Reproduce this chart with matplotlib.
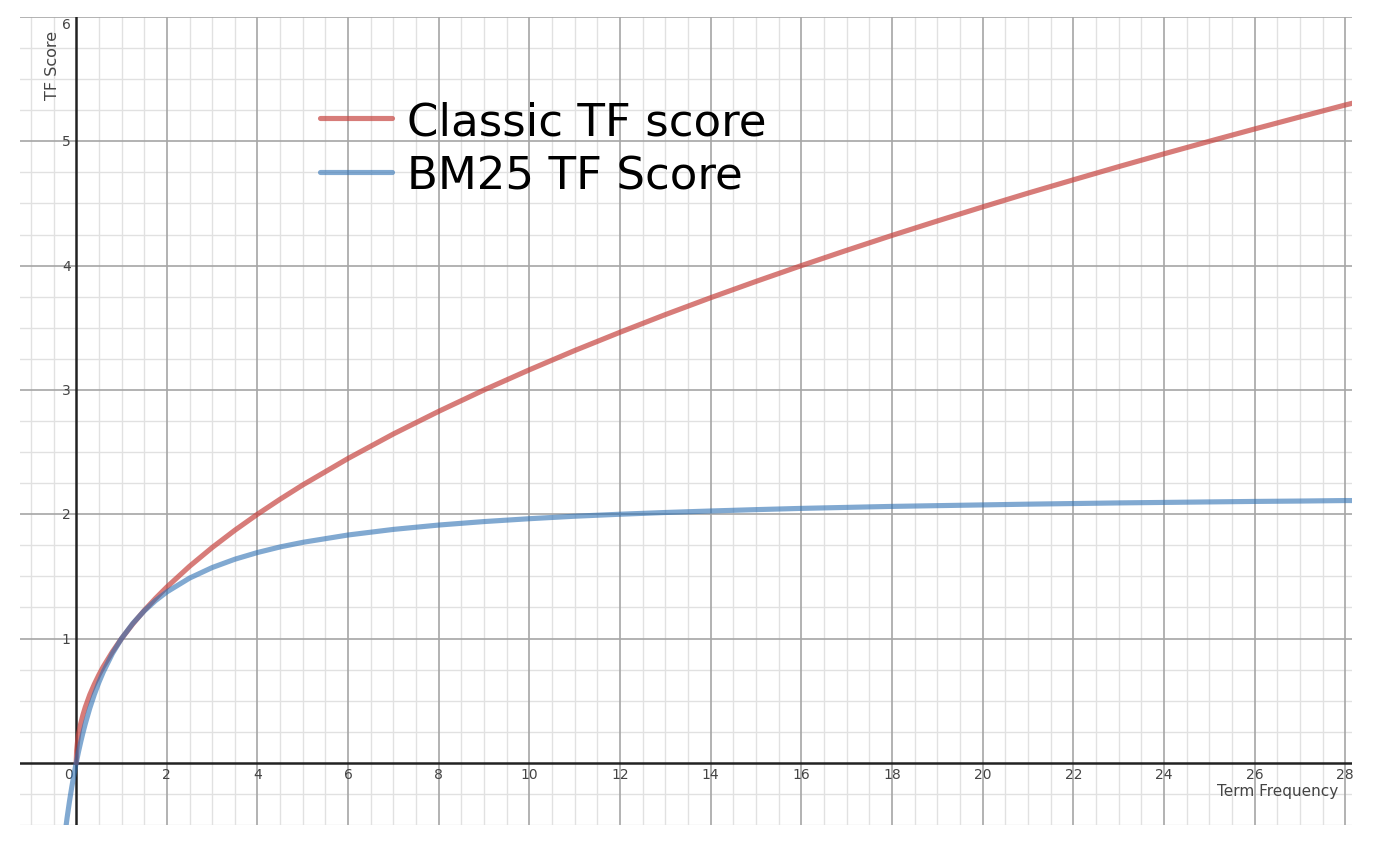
import matplotlib
matplotlib.use("Agg")
import matplotlib.pyplot as plt
import numpy as np

# Values
classic_x = [0, 0.01, 0.03, 0.06, 0.1, 0.15, 0.2, 0.3, 0.4, 0.5, 0.6, 0.8, 1, 1.25,
             1.5, 1.75, 2, 2.5, 3, 3.5, 4, 4.5, 5, 6, 7, 8, 9, 10, 11, 12, 13, 14,
             15, 16, 17, 18, 19, 20, 21, 22, 23, 24, 25, 26, 27, 28, 28.2]
classic_y = [0, 0.1, 0.173, 0.245, 0.316, 0.387, 0.447, 0.548, 0.632, 0.707, 0.775,
             0.894, 1.0, 1.118, 1.225, 1.323, 1.414, 1.581, 1.732, 1.871, 2.0, 2.121,
             2.236, 2.449, 2.646, 2.828, 3.0, 3.162, 3.317, 3.464, 3.606, 3.742,
             3.873, 4.0, 4.123, 4.243, 4.359, 4.472, 4.583, 4.690, 4.796, 4.899, 5.0,
             5.099, 5.196, 5.292, 5.310]

bm25_x = [-0.25, -0.2, -0.15, -0.1, -0.05, 0, 0.05, 0.1, 0.15, 0.2, 0.3, 0.4, 0.5,
          0.6, 0.8, 1, 1.25, 1.5, 1.75, 2, 2.5, 3, 3.5, 4, 4.5, 5, 6, 7, 8, 9, 10,
          11, 12, 13, 14, 15, 16, 17, 18, 19, 20, 21, 22, 23, 24, 25, 26, 27, 28, 28.2]
bm25_y = [-0.58, -0.44, -0.314, -0.2, -0.096, 0, 0.088, 0.169, 0.244, 0.314, 0.44,
          0.55, 0.647, 0.733, 0.88, 1.0, 1.122, 1.222, 1.305, 1.375, 1.486, 1.571,
          1.638, 1.692, 1.737, 1.774, 1.833, 1.878, 1.913, 1.941, 1.964, 1.984, 2.0,
          2.014, 2.026, 2.037, 2.047, 2.055, 2.063, 2.069, 2.075, 2.081, 2.086,
          2.091, 2.095, 2.099, 2.103, 2.106, 2.11, 2.11]

x_tick_vals = list(range(0, 29, 2))
y_tick_vals = [1, 2, 3, 4, 5, 6]
series_labels = ["Classic TF score", "BM25 TF Score"]
x_label = "Term Frequency"
y_label = "TF Score"

W, H = 1382, 854
fig = plt.figure(figsize=(W / 100, H / 100), dpi=100)
ax = fig.add_axes([20 / W, (H - 826) / H, (1352 - 20) / W, (826 - 18) / H])
ax.set_xlim(-1.24, 28.15)
ax.set_ylim(-0.5, 6.0)
for s in ax.spines.values():
    s.set_visible(False)
ax.set_xticks([])
ax.set_yticks([])

# grid
for v in np.arange(-1.0, 28.6, 0.5):
    if abs(v % 2) < 1e-9:
        continue
    ax.axvline(v, color="#e1e1e1", lw=1.0, zorder=0)
for v in np.arange(-0.5, 6.01, 0.25):
    if abs(v - round(v)) < 1e-9:
        continue
    ax.axhline(v, color="#e1e1e1", lw=1.0, zorder=0)
for v in x_tick_vals:
    if v == 0:
        continue
    ax.axvline(v, color="#a6a6a6", lw=1.2, zorder=1)
for v in y_tick_vals:
    ax.axhline(v, color="#a6a6a6", lw=1.2, zorder=1)
ax.axvline(0, color="#222222", lw=1.8, zorder=2)
ax.axhline(0, color="#222222", lw=1.8, zorder=2)

# tick labels
for v in x_tick_vals:
    if v == 0:
        ax.text(-0.08, -0.03, "0", ha="right", va="top", fontsize=10, color="#444444")
    else:
        ax.text(v, -0.03, str(v), ha="center", va="top", fontsize=10, color="#444444")
for v in y_tick_vals:
    yy = v if v < 6 else 5.94
    ax.text(-0.12, yy, str(v), ha="right", va="center", fontsize=10, color="#444444")

ax.text(-0.52, 5.9, y_label, rotation=90, ha="center", va="top", fontsize=11.5,
        color="#444444")
ax.text(27.85, -0.225, x_label, ha="right", va="center", fontsize=11, color="#444444")

# curves
ax.plot(classic_x, classic_y, color="#c74440", alpha=0.7, lw=3.7, zorder=3,
        solid_capstyle="round", solid_joinstyle="round", label=series_labels[0])
ax.plot(bm25_x, bm25_y, color="#2d70b3", alpha=0.6, lw=3.7, zorder=4,
        solid_capstyle="round", solid_joinstyle="round", label=series_labels[1])

leg = ax.legend(loc="upper left", bbox_to_anchor=(320 / W, 1 - 101 / H),
                bbox_transform=fig.transFigure, frameon=False, fontsize=32.5,
                handlelength=1.6, handletextpad=0.32, labelspacing=0.25,
                borderpad=0, borderaxespad=0)
for t in leg.get_texts():
    t.set_color("black")

fig.savefig("out.png", dpi=100, facecolor="white")
